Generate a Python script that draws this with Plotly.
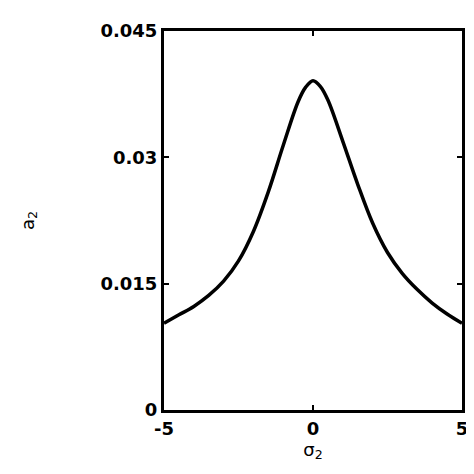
import plotly.graph_objects as go

# Values
sigma2 = [-5.0, -4.5, -4.0, -3.5, -3.0, -2.5, -2.0, -1.5, -1.0, -0.5, -0.25, 0.0,
          0.25, 0.5, 1.0, 1.5, 2.0, 2.5, 3.0, 3.5, 4.0, 4.5, 5.0]
a2 = [0.0103, 0.0113, 0.0123, 0.0136, 0.0153, 0.0177, 0.0212, 0.0259, 0.0314,
      0.0366, 0.0383, 0.0391, 0.0384, 0.0368, 0.0319, 0.0268, 0.0222, 0.0187,
      0.0162, 0.0143, 0.0127, 0.0114, 0.0103]

y_ticks = [0, 0.015, 0.03, 0.045]
y_ticktext = ["0", "0.015", "0.03", "0.045"]
x_ticks = [-5, 0, 5]
x_ticktext = ["-5", "0", "5"]

fig = go.Figure()
fig.add_trace(go.Scatter(x=sigma2, y=a2, mode="lines",
                         line=dict(color="black", width=3.5, shape="spline", smoothing=1.0),
                         showlegend=False))

tickfont = dict(family="DejaVu Sans", size=18, color="black", weight="bold")
axis_common = dict(showgrid=False, zeroline=False, showline=True, linecolor="black",
                   linewidth=3, mirror="ticks", ticks="inside", ticklen=5, tickwidth=2,
                   tickcolor="black", tickfont=tickfont)

fig.update_layout(
    width=474, height=474,
    margin=dict(l=156, r=20, t=23, b=72),
    paper_bgcolor="white", plot_bgcolor="white",
    xaxis=dict(range=[-5, 5], tickvals=x_ticks, ticktext=x_ticktext,
               title=dict(text="σ<sub>2</sub>", font=dict(family="DejaVu Sans", size=18, color="black"),
                          standoff=4),
               **axis_common),
    yaxis=dict(range=[0, 0.045], tickvals=y_ticks, ticktext=y_ticktext,
               title=dict(text="a<sub>2</sub>", font=dict(family="DejaVu Sans", size=18, color="black"),
                          standoff=62),
               **axis_common),
)

fig.write_html("out.html")
